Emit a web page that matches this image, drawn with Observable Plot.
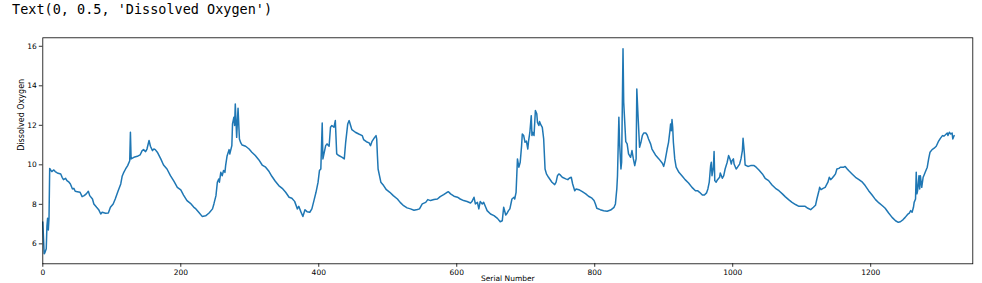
<!DOCTYPE html>
<html>
<head>
<meta charset="utf-8">
<script src="https://cdn.jsdelivr.net/npm/d3@7"></script>
<script src="https://cdn.jsdelivr.net/npm/@observablehq/plot@0.6"></script>
<style>
  html, body { margin: 0; padding: 0; background: #fff; width: 982px; height: 283px; overflow: hidden; }
  #out { position: relative; height: 25px; }
  #out span { position: absolute; left: 12px; top: 3px; font-family: "DejaVu Sans Mono", monospace; font-size: 13.5px; line-height: 1; color: #000; white-space: pre; }
  #chart svg { display: block; }
</style>
</head>
<body>
<div id="out"><span id="outText"></span></div>
<div id="chart"></div>
<script>
const outputText = "Text(0, 0.5, 'Dissolved Oxygen')";
const xLabel = "Serial Number";
const yLabel = "Dissolved Oxygen";
const xTicks = [0, 200, 400, 600, 800, 1000, 1200];
const yTicks = [6, 8, 10, 12, 14, 16];

const serial = [
  0,2,3,5,6,7,8,9,10,13,16,18,21,26,28,30,33,35,38,40,43,45,47,50,54,57,60,63,66,68,72,74,78,81,84,86,91,95,98,102,
  105,109,113,115,117,120,123,126,127,128,132,137,141,144,146,149,151,154,156,159,161,163,166,171,175,180,185,190,195,200,
  204,209,214,219,221,226,231,236,241,246,248,251,253,255,256,258,260,262,264,265,267,270,271,274,275,277,278,279,281,282,
  283,285,287,289,294,299,303,308,313,318,323,328,332,337,342,347,352,357,361,365,369,371,374,377,380,383,387,390,393,396,
  399,401,403,405,406,407,410,412,415,417,419,422,424,426,429,434,437,439,442,444,448,453,458,463,465,469,473,475,477,481,
  483,484,485,486,488,490,494,498,503,508,514,518,523,528,533,538,543,546,550,555,558,562,567,572,576,581,586,588,591,596,
  601,605,610,615,620,622,625,627,630,632,634,637,639,642,644,649,654,659,663,666,668,671,673,675,677,680,683,684,686,688,
  690,692,694,695,697,699,701,703,704,706,708,709,710,712,714,716,717,719,720,722,724,726,728,730,733,738,742,744,746,748,
  750,753,758,761,763,766,768,771,773,777,782,787,791,796,799,801,803,808,813,818,823,828,830,832,833,835,836,838,839,841,
  842,845,847,849,852,854,856,858,860,861,863,865,867,869,871,874,876,878,881,883,888,893,898,900,902,905,907,909,910,911,
  912,913,914,916,918,922,927,931,936,941,946,949,952,956,959,962,964,966,968,969,970,972,973,974,976,978,981,982,985,987,
  989,992,994,996,998,999,1001,1002,1005,1007,1010,1012,1014,1015,1017,1018,1022,1026,1031,1034,1038,1043,1047,1052,1057,1062,
  1067,1072,1076,1081,1086,1091,1096,1101,1105,1109,1113,1117,1120,1122,1125,1126,1128,1131,1134,1138,1140,1142,1144,1147,
  1149,1151,1154,1156,1161,1163,1166,1168,1173,1178,1183,1188,1192,1197,1202,1207,1212,1217,1221,1226,1231,1236,1240,1243,
  1247,1250,1254,1256,1258,1260,1262,1263,1265,1266,1267,1268,1270,1271,1272,1274,1276,1277,1279,1282,1284,1286,1289,1292,
  1295,1298,1301,1304,1306,1308,1311,1312,1314,1316,1318,1319,1321
];
const oxygen = [
  7.1,5.5,5.55,5.75,6.9,7.3,6.7,7.3,9.82,9.66,9.74,9.66,9.59,9.54,9.37,9.25,9.32,9.2,9.12,9.03,8.78,8.81,8.66,8.64,8.61,8.39,8.44,8.53,8.66,8.44,8.27,8.02,7.85,7.73,7.51,7.6,7.55,7.56,7.85,8.02,
  8.27,8.66,9.03,9.42,9.59,9.79,9.96,10.21,11.65,10.3,10.38,10.43,10.5,10.72,10.77,10.67,10.8,11.23,10.94,10.72,10.8,10.77,10.64,10.3,9.99,9.79,9.45,9.17,8.86,8.73,
  8.47,8.19,8.05,7.85,7.8,7.6,7.39,7.42,7.56,7.77,8.02,8.44,9.12,9.28,9.12,9.62,9.45,9.71,9.62,9.96,10.43,10.77,10.55,10.97,12.07,12.41,11.99,13.08,11.39,12.15,
  12.86,11.31,11.11,11.0,10.94,10.8,10.64,10.47,10.26,9.99,9.88,9.66,9.42,9.17,8.95,8.81,8.61,8.36,8.31,8.15,7.77,7.9,7.63,7.38,7.73,7.63,7.6,7.77,8.19,8.61,
  9.12,9.71,9.79,12.12,10.3,10.47,10.97,11.06,10.94,11.9,11.99,11.9,12.24,10.55,10.47,10.38,10.3,11.14,12.07,12.24,11.78,11.65,11.56,11.48,11.28,11.17,11.11,10.97,11.17,11.39,
  11.48,11.3,10.47,9.79,9.45,9.12,8.95,8.74,8.61,8.44,8.27,8.1,7.93,7.82,7.77,7.7,7.74,7.77,8.02,8.1,8.24,8.19,8.24,8.27,8.39,8.49,8.61,8.64,8.53,8.41,
  8.36,8.27,8.19,8.14,8.07,8.14,8.36,8.02,8.1,7.77,8.14,8.02,8.1,7.85,7.68,7.51,7.43,7.29,7.12,7.17,7.85,7.46,7.55,7.68,7.77,8.27,8.36,8.27,8.61,10.3,
  9.88,10.13,10.97,11.56,11.48,11.14,11.2,10.8,11.17,11.65,12.49,11.48,11.65,11.48,12.75,12.58,12.15,11.99,12.19,12.02,11.9,11.31,9.79,9.54,9.37,9.12,9.0,9.12,9.45,9.54,
  9.49,9.37,9.29,9.25,9.32,9.37,9.03,8.69,8.78,8.74,8.64,8.53,8.41,8.31,8.19,8.02,7.8,7.73,7.68,7.65,7.71,7.85,8.02,8.78,9.45,12.41,11.14,9.79,10.13,15.87,
  13.17,11.17,11.06,10.55,10.38,10.72,10.3,9.96,10.3,13.84,12.32,10.89,11.14,11.48,11.61,11.61,11.51,11.31,11.06,10.8,10.5,10.3,10.08,9.92,10.21,10.8,11.14,11.73,12.07,11.73,
  12.29,11.9,11.14,10.3,9.88,9.62,9.42,9.25,9.08,8.86,8.69,8.69,8.61,8.47,8.47,8.58,8.78,9.12,9.96,10.13,9.45,9.88,10.67,9.2,9.12,9.25,9.37,9.59,9.32,9.45,
  9.79,10.13,10.47,10.3,10.04,10.21,10.3,10.04,9.79,9.88,10.04,10.3,10.72,11.34,10.55,9.99,9.92,9.96,9.96,9.88,9.74,9.54,9.32,9.2,8.98,8.81,
  8.69,8.53,8.39,8.24,8.1,7.99,7.9,7.9,7.9,7.8,7.73,7.85,7.95,8.27,8.69,8.86,8.74,8.81,8.86,9.12,9.37,9.25,9.32,9.45,
  9.54,9.79,9.82,9.88,9.88,9.92,9.79,9.71,9.54,9.37,9.25,9.12,8.95,8.69,8.47,8.24,8.07,7.93,7.8,7.56,7.34,7.17,7.09,7.12,
  7.23,7.34,7.51,7.56,7.68,7.6,7.85,8.1,8.27,9.62,8.53,8.69,9.45,8.78,9.45,8.86,9.37,9.45,9.62,9.88,10.3,10.64,10.77,10.84,
  10.94,11.17,11.34,11.48,11.45,11.51,11.61,11.48,11.65,11.56,11.61,11.31,11.48
];

document.getElementById("outText").textContent = outputText;

const data = serial.map((s, i) => ({serial: s, oxygen: oxygen[i]}));
const tickFont = "DejaVu Sans, sans-serif";

const chart = Plot.plot({
  width: 982,
  height: 258,
  marginTop: 12.3,
  marginBottom: 19.7,
  marginLeft: 42.3,
  marginRight: 9.7,
  style: {background: "#fff", fontFamily: tickFont, fontSize: "7.5px", color: "#000", overflow: "visible"},
  x: {domain: [0, 1348], ticks: xTicks, label: null},
  y: {domain: [4.99, 16.43], ticks: yTicks, label: null},
  marks: [
    Plot.line(data, {x: "serial", y: "oxygen", stroke: "#1f77b4", strokeWidth: 1.5}),
    Plot.frame({stroke: "#000", strokeWidth: 0.8}),
    Plot.axisX({ticks: xTicks, tickFormat: d3.format("d"), tickSize: 3.5, tickPadding: 2.5, fontSize: 7.5, stroke: "#000", strokeWidth: 0.8}),
    Plot.axisY({ticks: yTicks, tickFormat: d3.format("d"), tickSize: 3.5, tickPadding: 2.5, fontSize: 7.5, stroke: "#000", strokeWidth: 0.8}),
    Plot.text([yLabel], {frameAnchor: "left", dx: -21.6, rotate: -90, fontSize: 8, fill: "#000"}),
    Plot.text([xLabel], {frameAnchor: "bottom", dy: 12.2, lineAnchor: "top", fontSize: 7.5, fill: "#000"})
  ]
});
document.getElementById("chart").appendChild(chart);
</script>
</body>
</html>
